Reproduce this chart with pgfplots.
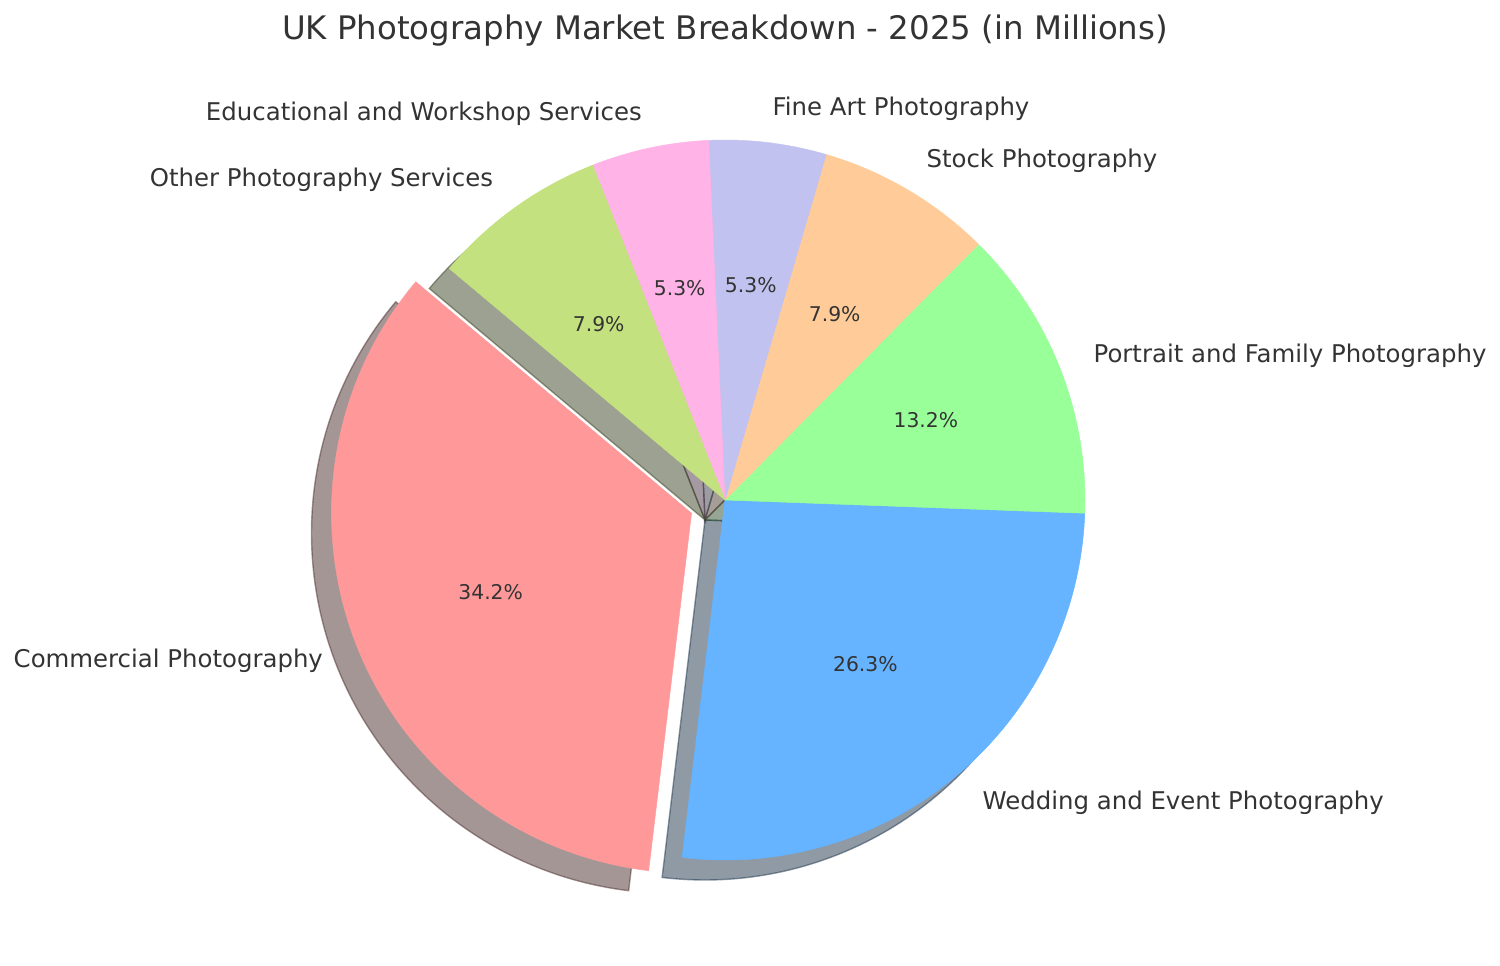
\documentclass[border=0pt]{standalone}
\usepackage{pgfplots}
\pgfplotsset{compat=1.18}
\usepackage{pgfplotstable}
\usepackage{fontspec}
\setmainfont{DejaVu Sans}

\definecolor{c0}{HTML}{FF9999}
\definecolor{c1}{HTML}{66B3FF}
\definecolor{c2}{HTML}{99FF99}
\definecolor{c3}{HTML}{FFCC99}
\definecolor{c4}{HTML}{C2C2F0}
\definecolor{c5}{HTML}{FFB3E6}
\definecolor{c6}{HTML}{C4E17F}
\definecolor{txt}{HTML}{333333}

\pgfplotstableread[col sep=comma]{
label,value,explode
Commercial Photography,1300,0.1
Wedding and Event Photography,1000,0
Portrait and Family Photography,500,0
Stock Photography,300,0
Fine Art Photography,200,0
Educational and Workshop Services,200,0
Other Photography Services,300,0
}\piedata

\newcommand\V[2]{\csname #1#2\endcsname}
\pgfplotstablegetrowsof{\piedata}%
\pgfmathtruncatemacro\lastrow{\pgfplotsretval-1}%
\gdef\pietotal{0}%
\foreach \i in {0,...,\lastrow}{%
  \pgfplotstablegetelem{\i}{value}\of\piedata
  \pgfmathsetmacro\tmp{\pietotal+\pgfplotsretval}%
  \xdef\pietotal{\tmp}%
}%
\gdef\piecum{140}%
\foreach \i in {0,...,\lastrow}{%
  \pgfplotstablegetelem{\i}{value}\of\piedata
  \pgfmathsetmacro\frac{\pgfplotsretval/\pietotal}%
  \pgfmathsetmacro\angA{\piecum}%
  \pgfmathsetmacro\angB{\piecum+360*\frac}%
  \pgfmathsetmacro\angM{(\angA+\angB)/2}%
  \pgfmathsetmacro\pct{100*\frac}%
  \pgfplotstablegetelem{\i}{explode}\of\piedata
  \pgfmathsetmacro\ox{\pgfplotsretval*cos(\angM)}%
  \pgfmathsetmacro\oy{\pgfplotsretval*sin(\angM)}%
  \pgfmathsetmacro\lx{\ox+1.1*cos(\angM)}%
  \pgfmathsetmacro\ly{\oy+1.1*sin(\angM)}%
  \pgfmathsetmacro\qx{\ox+0.6*cos(\angM)}%
  \pgfmathsetmacro\qy{\oy+0.6*sin(\angM)}%
  \pgfmathsetmacro\cm{cos(\angM)}%
  \ifdim\cm pt>0pt \def\anc{west}\else\def\anc{east}\fi
  \pgfplotstablegetelem{\i}{label}\of\piedata
  \expandafter\xdef\csname lb\i\endcsname{\pgfplotsretval}%
  \expandafter\xdef\csname sa\i\endcsname{\angA}%
  \expandafter\xdef\csname sb\i\endcsname{\angB}%
  \expandafter\xdef\csname pc\i\endcsname{\pct}%
  \expandafter\xdef\csname ox\i\endcsname{\ox}%
  \expandafter\xdef\csname oy\i\endcsname{\oy}%
  \expandafter\xdef\csname lx\i\endcsname{\lx}%
  \expandafter\xdef\csname ly\i\endcsname{\ly}%
  \expandafter\xdef\csname qx\i\endcsname{\qx}%
  \expandafter\xdef\csname qy\i\endcsname{\qy}%
  \expandafter\xdef\csname an\i\endcsname{\anc}%
  \xdef\piecum{\angB}%
}%

\begin{document}
\begin{tikzpicture}
\begin{axis}[
  width=750pt, height=482.5pt, scale only axis,
  xmin=-2.013889, xmax=2.152778, ymin=-1.291667, ymax=1.388889,
  hide axis, clip=false,
  /pgf/number format/assume math mode=true,
]
% shadows
\pgfplotsinvokeforeach{0,...,6}{
  \filldraw[fill=c#1!30!black, draw=c#1!30!black, opacity=0.5, line width=0.7pt, xshift=-10pt, yshift=-10pt]
    (axis cs:\V{ox}{#1},\V{oy}{#1}) -- ++(\V{sa}{#1}:180pt)
    arc[start angle=\V{sa}{#1}, end angle=\V{sb}{#1}, radius=180pt] -- cycle;
}
% wedges
\pgfplotsinvokeforeach{0,...,6}{
  \filldraw[fill=c#1, draw=c#1, line width=0.25pt, line join=round]
    (axis cs:\V{ox}{#1},\V{oy}{#1}) -- ++(\V{sa}{#1}:180pt)
    arc[start angle=\V{sa}{#1}, end angle=\V{sb}{#1}, radius=180pt] -- cycle;
}
% labels
\pgfplotsinvokeforeach{0,...,6}{
  \node[anchor=\V{an}{#1}, inner sep=0pt, text height=0.76em, text depth=0.24em,
        text=txt, font=\fontsize{12.2}{14}\selectfont, yshift=-1.5pt]
    at (axis cs:\V{lx}{#1},\V{ly}{#1}) {\V{lb}{#1}};
  \node[anchor=center, inner sep=0pt, text height=0.76em, text depth=0.24em,
        text=txt, font=\fontsize{10.15}{12}\selectfont, yshift=-1pt]
    at (axis cs:\V{qx}{#1},\V{qy}{#1}) {\pgfmathprintnumber[fixed,precision=1,fixed zerofill,assume math mode=true]{\V{pc}{#1}}\%};
}
\node[anchor=base, inner sep=0pt, text=txt, font=\fontsize{16.2}{19}\selectfont]
  at (axis cs:0,1.2797) {UK Photography Market Breakdown - 2025 (in Millions)};
\end{axis}
\pgfresetboundingbox
\useasboundingbox (current axis.south west) rectangle (current axis.north east);
\end{tikzpicture}
\end{document}
